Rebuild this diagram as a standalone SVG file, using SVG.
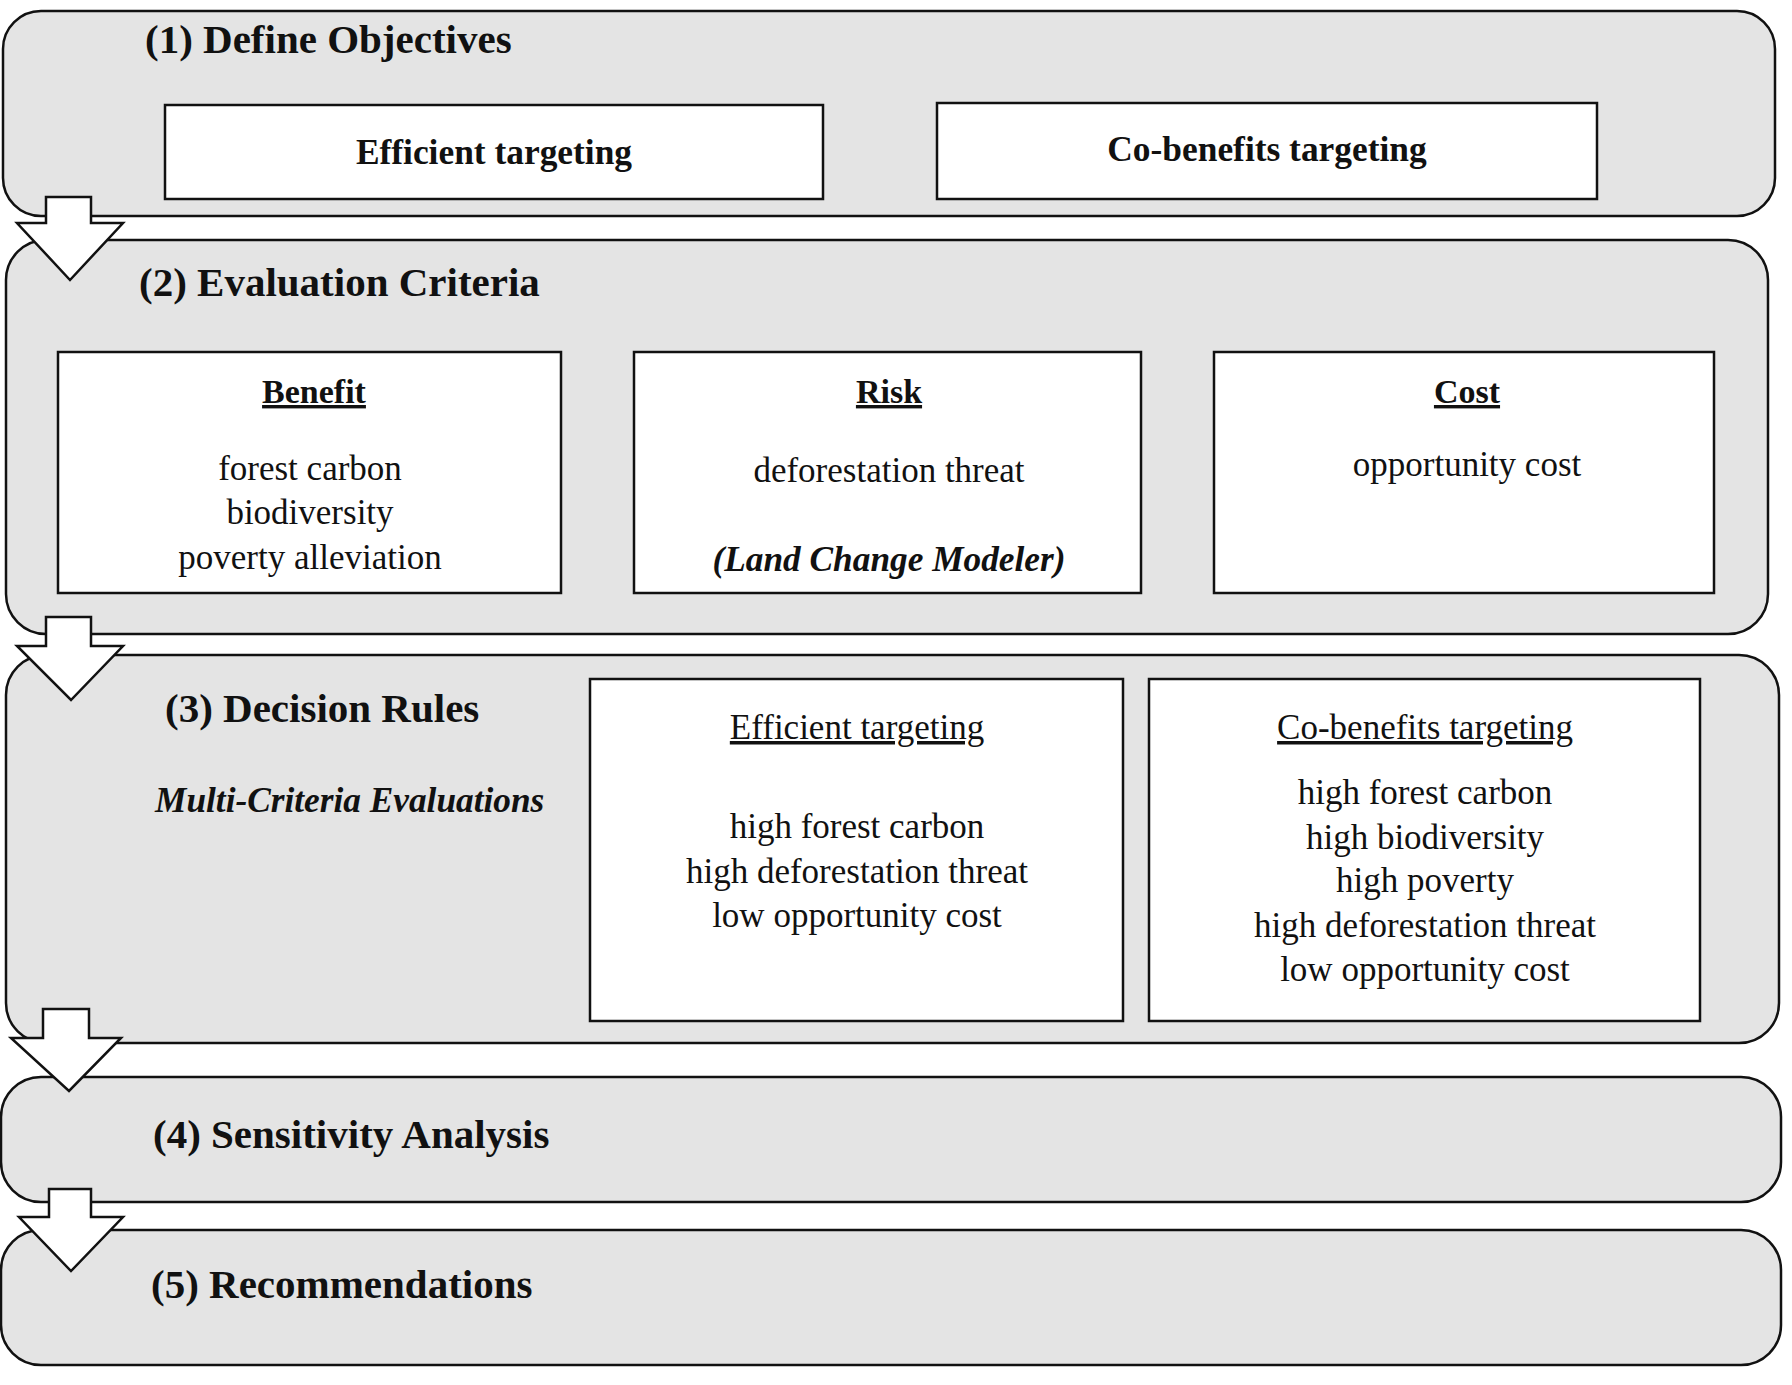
<svg xmlns="http://www.w3.org/2000/svg" width="1792" height="1385" viewBox="0 0 1792 1385">
<style>
.panel{fill:#e4e4e4;stroke:#111;stroke-width:2.5}
.box{fill:#fff;stroke:#111;stroke-width:2.5}
.arrow{fill:#fff;stroke:#111;stroke-width:2.5;stroke-linejoin:miter}
text{font-family:"Liberation Serif","Times New Roman",serif;fill:#111}
.title{font-size:41px;font-weight:bold}
.bhead{font-size:34px;font-weight:bold;text-anchor:middle}
.obj{font-size:35.4px;font-weight:bold;text-anchor:middle}
.ul{text-decoration:underline}
.body{font-size:35px;text-anchor:middle}
.bi{font-size:35.3px;font-weight:bold;font-style:italic}
</style>
<rect width="1792" height="1385" fill="#fff"/>
<g id="step1">
<rect class="panel" x="3" y="11" width="1772" height="205" rx="38"/>
<text class="title" x="145" y="53">(1) Define Objectives</text>
</g>
<g id="obj-efficient">
<rect class="box" x="165" y="105" width="658" height="94"/>
<text class="obj" x="494" y="164">Efficient targeting</text>
</g>
<g id="obj-cobenefits">
<rect class="box" x="937" y="103" width="660" height="96"/>
<text class="obj" x="1267" y="161">Co-benefits targeting</text>
</g>
<g id="step2">
<rect class="panel" x="6" y="240" width="1762" height="394" rx="40"/>
<text class="title" x="139" y="296">(2) Evaluation Criteria</text>
</g>
<g id="benefit">
<rect class="box" x="58" y="352" width="503" height="241"/>
<text class="bhead ul" x="314" y="403">Benefit</text>
<text class="body" x="310" y="480">forest carbon</text>
<text class="body" x="310" y="524">biodiversity</text>
<text class="body" x="310" y="569">poverty alleviation</text>
</g>
<g id="risk">
<rect class="box" x="634" y="352" width="507" height="241"/>
<text class="bhead ul" x="889" y="403">Risk</text>
<text class="body" x="889" y="482">deforestation threat</text>
<text class="bi" x="889" y="571" text-anchor="middle">(Land Change Modeler)</text>
</g>
<g id="cost">
<rect class="box" x="1214" y="352" width="500" height="241"/>
<text class="bhead ul" x="1467" y="403">Cost</text>
<text class="body" x="1467" y="476">opportunity cost</text>
</g>
<g id="step3">
<rect class="panel" x="6" y="655" width="1773" height="388" rx="40"/>
<text class="title" x="165" y="722">(3) Decision Rules</text>
<text class="bi" x="155" y="812">Multi-Criteria Evaluations</text>
</g>
<g id="rule-efficient">
<rect class="box" x="590" y="679" width="533" height="342"/>
<text class="body ul" x="857" y="739">Efficient targeting</text>
<text class="body" x="857" y="838">high forest carbon</text>
<text class="body" x="857" y="883">high deforestation threat</text>
<text class="body" x="857" y="927">low opportunity cost</text>
</g>
<g id="rule-cobenefits">
<rect class="box" x="1149" y="679" width="551" height="342"/>
<text class="body ul" x="1425" y="739">Co-benefits targeting</text>
<text class="body" x="1425" y="804">high forest carbon</text>
<text class="body" x="1425" y="849">high biodiversity</text>
<text class="body" x="1425" y="892">high poverty</text>
<text class="body" x="1425" y="937">high deforestation threat</text>
<text class="body" x="1425" y="981">low opportunity cost</text>
</g>
<g id="step4">
<rect class="panel" x="1" y="1077" width="1780" height="125" rx="40"/>
<text class="title" x="153" y="1148">(4) Sensitivity Analysis</text>
</g>
<g id="step5">
<rect class="panel" x="1" y="1230" width="1780" height="135" rx="40"/>
<text class="title" x="151" y="1298">(5) Recommendations</text>
</g>
<g id="connectors">
<polygon class="arrow" points="46,197 91,197 91,223 123,223 70,280 17,223 46,223"/>
<polygon class="arrow" points="46,617 91,617 91,646 123,646 71,700 17,646 46,646"/>
<polygon class="arrow" points="43,1009 89,1009 89,1038 121,1038 69,1091 11,1038 43,1038"/>
<polygon class="arrow" points="49,1189 91,1189 91,1217 123,1217 71,1271 19,1217 49,1217"/>
</g>
</svg>
